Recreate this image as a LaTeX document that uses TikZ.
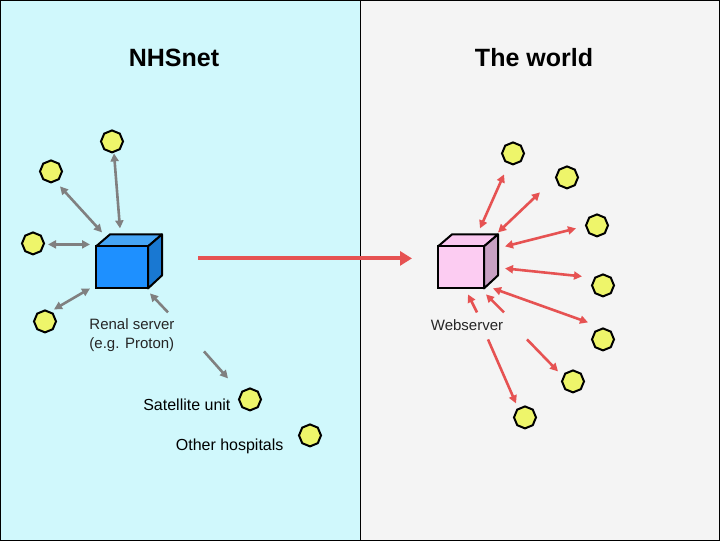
\documentclass[tikz,border=0pt]{standalone}
\usepackage{fontspec}
\setmainfont{Liberation Sans}
\usetikzlibrary{shapes.geometric,arrows.meta}
\definecolor{nhsbg}{HTML}{D0F8FC}
\definecolor{worldbg}{HTML}{F4F4F4}
\definecolor{hosp}{HTML}{EEF56A}
\definecolor{link}{HTML}{E65252}
\definecolor{grayarr}{HTML}{808080}
\begin{document}
\begin{tikzpicture}[x=1pt,y=-1pt,
    site/.style={regular polygon,regular polygon sides=8,draw,line width=2pt,fill=hosp,
                 minimum size=22pt,inner sep=0pt,shape border rotate=22.5},
    tip/.style={Triangle[length=8pt,width=8pt]},
    local/.style={draw=grayarr,line width=2.6pt,{Triangle[length=8pt,width=8pt]}-{Triangle[length=8pt,width=8pt]}},
    local one/.style={draw=grayarr,line width=2.6pt,-{Triangle[length=8pt,width=8pt]}},
    web/.style={draw=link,line width=2.6pt,{Triangle[length=8pt,width=8pt]}-{Triangle[length=8pt,width=8pt]}},
    web one/.style={draw=link,line width=2.6pt,-{Triangle[length=8pt,width=8pt]}},
    title/.style={font=\bfseries\fontsize{25}{30}\selectfont},
    caption/.style={font=\fontsize{15}{19}\selectfont,text=black!85,align=left},
    label/.style={font=\fontsize{16}{19}\selectfont}]
  % backgrounds
  \fill[nhsbg] (0,0) rectangle (360,540);
  \fill[worldbg] (360,0) rectangle (720,540);
  \draw[line width=0.8pt] (0.4,0.4) rectangle (719.6,539.6);
  \draw[line width=0.8pt] (360,0) -- (360,540);
  \node[title] (nhs) at (174,57) {NHSnet};
  \node[title] (world) at (534,57) {The world};

  % renal server cube
  \filldraw[fill={rgb,255:red,70;green,165;blue,245},line width=2pt,line join=round]
    (96,246) -- (110,234) -- (162,234) -- (148,246) -- cycle;
  \filldraw[fill={rgb,255:red,25;green,120;blue,210},line width=2pt,line join=round]
    (148,246) -- (162,234) -- (162,275) -- (148,288) -- cycle;
  \node[draw,line width=2pt,fill={rgb,255:red,30;green,144;blue,255},minimum width=52pt,minimum height=42pt,inner sep=0pt] (renal) at (122,267) {};
  \node[caption] (renaltxt) at (132,335) {Renal server\\(e.g. Proton)};

  % webserver cube
  \filldraw[fill={rgb,255:red,250;green,200;blue,240},line width=2pt,line join=round]
    (438,246) -- (452,234) -- (498,234) -- (484,246) -- cycle;
  \filldraw[fill={rgb,255:red,200;green,160;blue,195},line width=2pt,line join=round]
    (484,246) -- (498,234) -- (498,275) -- (484,288) -- cycle;
  \node[draw,line width=2pt,fill={rgb,255:red,252;green,204;blue,242},minimum width=46pt,minimum height=42pt,inner sep=0pt] (websrv) at (461,267) {};
  \node[caption] (webtxt) at (467,325) {Webserver};

  % sites
  \foreach \n/\p in {a/{112,141},b/{51,171},c/{33,243},d/{45,321},sat/{250,399},oth/{310,435},
                     p/{513,153},q/{567,177},r/{597,225},s/{603,285},t/{603,339},u/{573,381},v/{525,417}}
    \node[site] (\n) at (\p) {};
  \node[label,anchor=east] (sattxt) at (234,404) {Satellite unit};
  \node[label,anchor=east] (othtxt) at (287,446) {Other hospitals};

  % connector ends
  \foreach \n/\p in {a1/{114,153},a2/{120,228},b1/{60,186},b2/{102,232},c1/{48,244},c2/{90,244},
                     d1/{54,309},d2/{90,288},e1/{168,312},e2/{150,293},f1/{204,351},f2/{228,378},
                     p1/{504,174},p2/{480,228},q1/{540,192},q2/{498,232},r1/{576,228},r2/{505,246},
                     s1/{582,276},s2/{505,268},t1/{588,322},t2/{493,288},w1/{477,312},w2/{468,294},
                     x1/{504,312},x2/{486,294},y1/{527,339},y2/{558,371},z1/{488,339},z2/{516,403},
                     m1/{198,258},m2/{412,258}}
    \coordinate (\n) at (\p);

  \draw[local] (a1) -- (a2);
  \draw[local] (b1) -- (b2);
  \draw[local] (c1) -- (c2);
  \draw[local] (d1) -- (d2);
  \draw[local one] (e1) -- (e2);
  \draw[local one] (f1) -- (f2);
  \draw[web] (p1) -- (p2);
  \draw[web] (q1) -- (q2);
  \draw[web] (r1) -- (r2);
  \draw[web] (s1) -- (s2);
  \draw[web] (t1) -- (t2);
  \draw[web one] (w1) -- (w2);
  \draw[web one] (x1) -- (x2);
  \draw[web one] (y1) -- (y2);
  \draw[web one] (z1) -- (z2);
  \draw[draw=link,line width=4pt,-{Triangle[length=12pt,width=14pt]}] (m1) -- (m2);
\end{tikzpicture}
\end{document}
